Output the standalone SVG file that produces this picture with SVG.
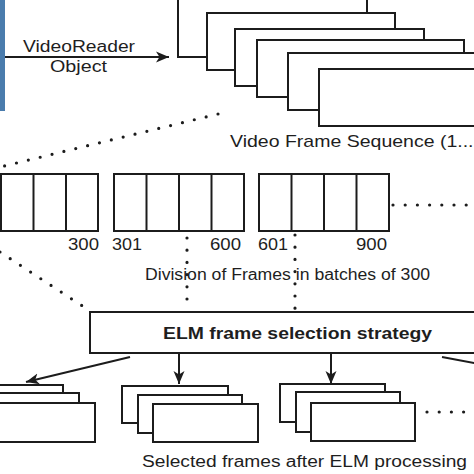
<svg xmlns="http://www.w3.org/2000/svg" width="474" height="474" viewBox="0 0 474 474">
<style>
.box{fill:#fff;stroke:#1c1c1c;stroke-width:2}
.ln{fill:none;stroke:#1c1c1c;stroke-width:2}
.dot{fill:none;stroke:#1c1c1c;stroke-width:3.2;stroke-linecap:round;stroke-dasharray:0 12.2}
.t{font-family:"Liberation Sans",Arial,sans-serif;font-size:16px;fill:#1e1e1e}
.b{font-weight:bold}
</style>
<defs>
<marker id="ah" markerWidth="14" markerHeight="12" refX="13" refY="6" orient="auto" markerUnits="userSpaceOnUse">
<path d="M0,0.5 L13,6 L0,11.5 L3.5,6 Z" fill="#1c1c1c"/>
</marker>
</defs>
<rect x="0" y="0" width="5" height="111" fill="#4a7cad"/>
<g id="connectors">
<line class="ln" x1="5" y1="57" x2="169" y2="57" marker-end="url(#ah)"/>
<line class="ln" x1="130" y1="357" x2="26" y2="382" marker-end="url(#ah)"/>
<line class="ln" x1="179" y1="353" x2="179" y2="384" marker-end="url(#ah)"/>
<line class="ln" x1="331" y1="353" x2="331" y2="384" marker-end="url(#ah)"/>
<line class="ln" x1="442" y1="357" x2="500" y2="368"/>
<line class="dot" x1="218" y1="114" x2="0" y2="167"/>
<line class="dot" x1="0" y1="252" x2="84" y2="307"/>
<line class="dot" x1="187" y1="238" x2="187" y2="311"/>
<line class="dot" x1="295" y1="235" x2="295" y2="311"/>
<line class="dot" x1="393" y1="205" x2="480" y2="205"/>
<line class="dot" x1="427" y1="412" x2="480" y2="412"/>
</g>
<g id="label-videoreader">
<text class="t" x="79" y="52" text-anchor="middle" textLength="112" lengthAdjust="spacingAndGlyphs">VideoReader</text>
<text class="t" x="78.5" y="72" text-anchor="middle" textLength="57" lengthAdjust="spacingAndGlyphs">Object</text>
</g>
<g id="frame-sequence">
<rect class="box" x="178" y="-3" width="189" height="60"/>
<rect class="box" x="207" y="13" width="188" height="57"/>
<rect class="box" x="235" y="29" width="189" height="57"/>
<rect class="box" x="257" y="40" width="207" height="57"/>
<rect class="box" x="288" y="53" width="220" height="57"/>
<rect class="box" x="319" y="69" width="220" height="57"/>
<text class="t" x="230" y="147" transform="translate(230 0) scale(1.22 1) translate(-230 0)">Video Frame Sequence (1...n)</text>
</g>
<g id="batch1">
<rect class="box" x="1" y="174" width="97" height="57"/>
<line class="ln" x1="33.5" y1="174" x2="33.5" y2="231"/>
<line class="ln" x1="66" y1="174" x2="66" y2="231"/>
<text class="t" x="99" y="250" text-anchor="end" textLength="31" lengthAdjust="spacingAndGlyphs">300</text>
</g>
<g id="batch2">
<rect class="box" x="114" y="174" width="130" height="57"/>
<line class="ln" x1="146.5" y1="174" x2="146.5" y2="231"/>
<line class="ln" x1="179" y1="174" x2="179" y2="231"/>
<line class="ln" x1="211.5" y1="174" x2="211.5" y2="231"/>
<text class="t" x="112" y="250" textLength="30" lengthAdjust="spacingAndGlyphs">301</text>
<text class="t" x="241" y="250" text-anchor="end" textLength="31" lengthAdjust="spacingAndGlyphs">600</text>
</g>
<g id="batch3">
<rect class="box" x="259" y="174" width="130" height="57"/>
<line class="ln" x1="291.5" y1="174" x2="291.5" y2="231"/>
<line class="ln" x1="324" y1="174" x2="324" y2="231"/>
<line class="ln" x1="356.5" y1="174" x2="356.5" y2="231"/>
<text class="t" x="258" y="250" textLength="30" lengthAdjust="spacingAndGlyphs">601</text>
<text class="t" x="387" y="250" text-anchor="end" textLength="31" lengthAdjust="spacingAndGlyphs">900</text>
</g>
<text id="label-division" class="t" x="145" y="280" textLength="285" lengthAdjust="spacingAndGlyphs">Division of Frames in batches of 300</text>
<g id="elm-box">
<rect class="box" x="90" y="312" width="420" height="41"/>
<text class="t b" x="163" y="339" textLength="269" lengthAdjust="spacingAndGlyphs">ELM frame selection strategy</text>
</g>
<g id="stack-left">
<rect class="box" x="-43" y="385" width="106" height="38"/>
<rect class="box" x="-27" y="393" width="106" height="39"/>
<rect class="box" x="-11" y="403" width="106" height="39"/>
</g>
<g id="stack-middle">
<rect class="box" x="122" y="386" width="106" height="37"/>
<rect class="box" x="138" y="395" width="104" height="38"/>
<rect class="box" x="153" y="404" width="105" height="38"/>
</g>
<g id="stack-right">
<rect class="box" x="280" y="384" width="105" height="38"/>
<rect class="box" x="296" y="392" width="104" height="40"/>
<rect class="box" x="311" y="403" width="104" height="38"/>
</g>
<text id="label-selected" class="t" x="142" y="467" textLength="325" lengthAdjust="spacingAndGlyphs">Selected frames after ELM processing</text>
</svg>
